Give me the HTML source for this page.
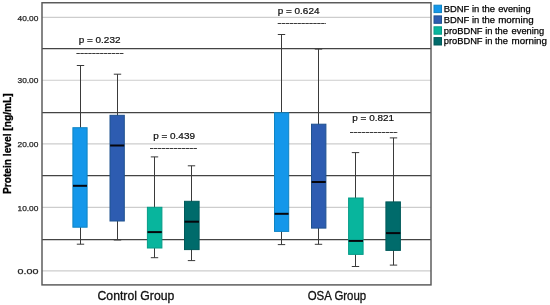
<!DOCTYPE html>
<html lang="en"><head><meta charset="utf-8"><title>Protein level box plot</title>
<style>html,body{margin:0;padding:0;background:#fff}body{width:550px;height:305px;overflow:hidden}</style></head>
<body>
<svg width="550" height="305" viewBox="0 0 550 305" style="display:block">
<rect width="550" height="305" fill="#fff"/>
<line x1="42.0" x2="431.0" y1="270.90" y2="270.90" stroke="#cdcdcd" stroke-width="1.2"/>
<line x1="42.0" x2="431.0" y1="207.35" y2="207.35" stroke="#cdcdcd" stroke-width="1.2"/>
<line x1="42.0" x2="431.0" y1="143.80" y2="143.80" stroke="#cdcdcd" stroke-width="1.2"/>
<line x1="42.0" x2="431.0" y1="80.25" y2="80.25" stroke="#cdcdcd" stroke-width="1.2"/>
<line x1="42.0" x2="431.0" y1="17.30" y2="17.30" stroke="#cdcdcd" stroke-width="1.2"/>
<line x1="42.0" x2="431.0" y1="239.50" y2="239.50" stroke="#444" stroke-width="1.25"/>
<line x1="42.0" x2="431.0" y1="175.50" y2="175.50" stroke="#444" stroke-width="1.25"/>
<line x1="42.0" x2="431.0" y1="112.50" y2="112.50" stroke="#444" stroke-width="1.25"/>
<line x1="42.0" x2="431.0" y1="48.50" y2="48.50" stroke="#444" stroke-width="1.25"/>
<line x1="80.5" x2="80.5" y1="65.5" y2="244.2" stroke="#3a3a3a" stroke-width="1"/>
<line x1="76.8" x2="84.2" y1="65.5" y2="65.5" stroke="#3a3a3a" stroke-width="1"/>
<line x1="76.8" x2="84.2" y1="244.2" y2="244.2" stroke="#3a3a3a" stroke-width="1"/>
<rect x="72.90" y="127.70" width="14.20" height="99.50" fill="#1497ea" stroke="#0e84c4" stroke-width="1"/>
<line x1="73.00" x2="87.00" y1="185.8" y2="185.8" stroke="#06060c" stroke-width="2"/>
<line x1="117.5" x2="117.5" y1="74.2" y2="240.0" stroke="#3a3a3a" stroke-width="1"/>
<line x1="113.8" x2="121.2" y1="74.2" y2="74.2" stroke="#3a3a3a" stroke-width="1"/>
<line x1="113.8" x2="121.2" y1="240.0" y2="240.0" stroke="#3a3a3a" stroke-width="1"/>
<rect x="110.00" y="115.30" width="14.30" height="105.70" fill="#2d5cb1" stroke="#1f528f" stroke-width="1"/>
<line x1="110.10" x2="124.20" y1="145.5" y2="145.5" stroke="#06060c" stroke-width="2"/>
<line x1="154.5" x2="154.5" y1="156.9" y2="257.7" stroke="#3a3a3a" stroke-width="1"/>
<line x1="150.8" x2="158.2" y1="156.9" y2="156.9" stroke="#3a3a3a" stroke-width="1"/>
<line x1="150.8" x2="158.2" y1="257.7" y2="257.7" stroke="#3a3a3a" stroke-width="1"/>
<rect x="147.40" y="207.30" width="14.50" height="40.70" fill="#08b59d" stroke="#069c88" stroke-width="1"/>
<line x1="147.50" x2="161.80" y1="232.1" y2="232.1" stroke="#06060c" stroke-width="2"/>
<line x1="191.5" x2="191.5" y1="165.8" y2="260.6" stroke="#3a3a3a" stroke-width="1"/>
<line x1="187.8" x2="195.2" y1="165.8" y2="165.8" stroke="#3a3a3a" stroke-width="1"/>
<line x1="187.8" x2="195.2" y1="260.6" y2="260.6" stroke="#3a3a3a" stroke-width="1"/>
<rect x="184.50" y="201.30" width="14.60" height="48.30" fill="#006b6b" stroke="#005a5a" stroke-width="1"/>
<line x1="184.60" x2="199.00" y1="221.7" y2="221.7" stroke="#06060c" stroke-width="2"/>
<line x1="281.5" x2="281.5" y1="34.5" y2="244.6" stroke="#3a3a3a" stroke-width="1"/>
<line x1="277.8" x2="285.2" y1="34.5" y2="34.5" stroke="#3a3a3a" stroke-width="1"/>
<line x1="277.8" x2="285.2" y1="244.6" y2="244.6" stroke="#3a3a3a" stroke-width="1"/>
<rect x="274.50" y="112.80" width="14.20" height="118.60" fill="#1497ea" stroke="#0e84c4" stroke-width="1"/>
<line x1="274.60" x2="288.60" y1="213.8" y2="213.8" stroke="#06060c" stroke-width="2"/>
<line x1="318.5" x2="318.5" y1="49.1" y2="244.3" stroke="#3a3a3a" stroke-width="1"/>
<line x1="314.8" x2="322.2" y1="49.1" y2="49.1" stroke="#3a3a3a" stroke-width="1"/>
<line x1="314.8" x2="322.2" y1="244.3" y2="244.3" stroke="#3a3a3a" stroke-width="1"/>
<rect x="311.50" y="124.20" width="14.40" height="103.90" fill="#2d5cb1" stroke="#1f528f" stroke-width="1"/>
<line x1="311.60" x2="325.80" y1="182.0" y2="182.0" stroke="#06060c" stroke-width="2"/>
<line x1="355.5" x2="355.5" y1="152.6" y2="266.5" stroke="#3a3a3a" stroke-width="1"/>
<line x1="351.8" x2="359.2" y1="152.6" y2="152.6" stroke="#3a3a3a" stroke-width="1"/>
<line x1="351.8" x2="359.2" y1="266.5" y2="266.5" stroke="#3a3a3a" stroke-width="1"/>
<rect x="348.60" y="198.00" width="14.50" height="56.40" fill="#08b59d" stroke="#069c88" stroke-width="1"/>
<line x1="348.70" x2="363.00" y1="240.9" y2="240.9" stroke="#06060c" stroke-width="2"/>
<line x1="393.5" x2="393.5" y1="137.9" y2="265.1" stroke="#3a3a3a" stroke-width="1"/>
<line x1="389.8" x2="397.2" y1="137.9" y2="137.9" stroke="#3a3a3a" stroke-width="1"/>
<line x1="389.8" x2="397.2" y1="265.1" y2="265.1" stroke="#3a3a3a" stroke-width="1"/>
<rect x="385.90" y="201.90" width="14.50" height="48.50" fill="#006b6b" stroke="#005a5a" stroke-width="1"/>
<line x1="386.00" x2="400.30" y1="233.1" y2="233.1" stroke="#06060c" stroke-width="2"/>
<rect x="42.0" y="2.75" width="389.0" height="282.15" fill="none" stroke="#585858" stroke-width="1.45"/>
<line x1="76.4" x2="124.0" y1="53.5" y2="53.5" stroke="#3a3a3a" stroke-width="1" stroke-dasharray="3.45 0.5"/>
<line x1="150" x2="197.3" y1="148.5" y2="148.5" stroke="#3a3a3a" stroke-width="1" stroke-dasharray="3.45 0.5"/>
<line x1="277.7" x2="325.9" y1="23.5" y2="23.5" stroke="#3a3a3a" stroke-width="1" stroke-dasharray="3.45 0.5"/>
<line x1="350.0" x2="397.7" y1="132.5" y2="132.5" stroke="#3a3a3a" stroke-width="1" stroke-dasharray="3.45 0.5"/>
<text x="78.7" y="42.6" font-family="Liberation Sans, Arial, sans-serif" font-size="9.1" fill="#111" stroke="#111" stroke-width="0.22" textLength="41.8" lengthAdjust="spacingAndGlyphs">p = 0.232</text>
<text x="153.2" y="139.1" font-family="Liberation Sans, Arial, sans-serif" font-size="9.1" fill="#111" stroke="#111" stroke-width="0.22" textLength="41.8" lengthAdjust="spacingAndGlyphs">p = 0.439</text>
<text x="277.7" y="13.6" font-family="Liberation Sans, Arial, sans-serif" font-size="9.1" fill="#111" stroke="#111" stroke-width="0.22" textLength="41.8" lengthAdjust="spacingAndGlyphs">p = 0.624</text>
<text x="352.3" y="120.8" font-family="Liberation Sans, Arial, sans-serif" font-size="9.1" fill="#111" stroke="#111" stroke-width="0.22" textLength="41.8" lengthAdjust="spacingAndGlyphs">p = 0.821</text>
<text x="38.4" y="274.10" font-family="Liberation Sans, Arial, sans-serif" font-size="8" fill="#222" stroke="#222" stroke-width="0.25" text-anchor="end" textLength="20.9" lengthAdjust="spacingAndGlyphs">0.00</text>
<text x="38.4" y="210.55" font-family="Liberation Sans, Arial, sans-serif" font-size="8" fill="#222" stroke="#222" stroke-width="0.25" text-anchor="end" textLength="20.9" lengthAdjust="spacingAndGlyphs">10.00</text>
<text x="38.4" y="147.00" font-family="Liberation Sans, Arial, sans-serif" font-size="8" fill="#222" stroke="#222" stroke-width="0.25" text-anchor="end" textLength="20.9" lengthAdjust="spacingAndGlyphs">20.00</text>
<text x="38.4" y="83.45" font-family="Liberation Sans, Arial, sans-serif" font-size="8" fill="#222" stroke="#222" stroke-width="0.25" text-anchor="end" textLength="20.9" lengthAdjust="spacingAndGlyphs">30.00</text>
<text x="38.4" y="20.50" font-family="Liberation Sans, Arial, sans-serif" font-size="8" fill="#222" stroke="#222" stroke-width="0.25" text-anchor="end" textLength="20.9" lengthAdjust="spacingAndGlyphs">40.00</text>
<text transform="translate(11.3 143.7) rotate(-90)" font-family="Liberation Sans, Arial, sans-serif" font-size="10" font-weight="bold" fill="#000" stroke="#000" stroke-width="0.3" text-anchor="middle" textLength="100.8" lengthAdjust="spacingAndGlyphs">Protein level [ng/mL]</text>
<text x="97.5" y="299.6" font-family="Liberation Sans, Arial, sans-serif" font-size="12" fill="#111" stroke="#111" stroke-width="0.3" textLength="76.8" lengthAdjust="spacingAndGlyphs">Control Group</text>
<text x="307.7" y="299.6" font-family="Liberation Sans, Arial, sans-serif" font-size="12" fill="#111" stroke="#111" stroke-width="0.3" textLength="58.5" lengthAdjust="spacingAndGlyphs">OSA Group</text>
<rect x="434.0" y="5.2" width="7.5" height="7.4" fill="#1497ea" stroke="#0e84c4" stroke-width="1"/>
<text x="443.7" y="12.1" font-family="Liberation Sans, Arial, sans-serif" font-size="9.8" fill="#000" stroke="#000" stroke-width="0.25" textLength="51.3" lengthAdjust="spacingAndGlyphs">BDNF in the</text>
<text x="498.20000000000005" y="12.1" font-family="Liberation Sans, Arial, sans-serif" font-size="9.8" fill="#000" stroke="#000" stroke-width="0.25" textLength="32.4" lengthAdjust="spacingAndGlyphs">evening</text>
<rect x="434.0" y="15.9" width="7.5" height="7.4" fill="#2d5cb1" stroke="#1f528f" stroke-width="1"/>
<text x="443.7" y="22.7" font-family="Liberation Sans, Arial, sans-serif" font-size="9.8" fill="#000" stroke="#000" stroke-width="0.25" textLength="51.3" lengthAdjust="spacingAndGlyphs">BDNF in the</text>
<text x="498.20000000000005" y="22.7" font-family="Liberation Sans, Arial, sans-serif" font-size="9.8" fill="#000" stroke="#000" stroke-width="0.25" textLength="35.4" lengthAdjust="spacingAndGlyphs">morning</text>
<rect x="434.0" y="26.8" width="7.5" height="7.4" fill="#08b59d" stroke="#069c88" stroke-width="1"/>
<text x="443.7" y="33.5" font-family="Liberation Sans, Arial, sans-serif" font-size="9.8" fill="#000" stroke="#000" stroke-width="0.25" textLength="64.3" lengthAdjust="spacingAndGlyphs">proBDNF in the</text>
<text x="511.6" y="33.5" font-family="Liberation Sans, Arial, sans-serif" font-size="9.8" fill="#000" stroke="#000" stroke-width="0.25" textLength="32.6" lengthAdjust="spacingAndGlyphs">evening</text>
<rect x="434.0" y="37.6" width="7.5" height="7.4" fill="#006b6b" stroke="#005a5a" stroke-width="1"/>
<text x="443.7" y="44.0" font-family="Liberation Sans, Arial, sans-serif" font-size="9.8" fill="#000" stroke="#000" stroke-width="0.25" textLength="64.3" lengthAdjust="spacingAndGlyphs">proBDNF in the</text>
<text x="511.6" y="44.0" font-family="Liberation Sans, Arial, sans-serif" font-size="9.8" fill="#000" stroke="#000" stroke-width="0.25" textLength="35.4" lengthAdjust="spacingAndGlyphs">morning</text>
</svg>
</body></html>
